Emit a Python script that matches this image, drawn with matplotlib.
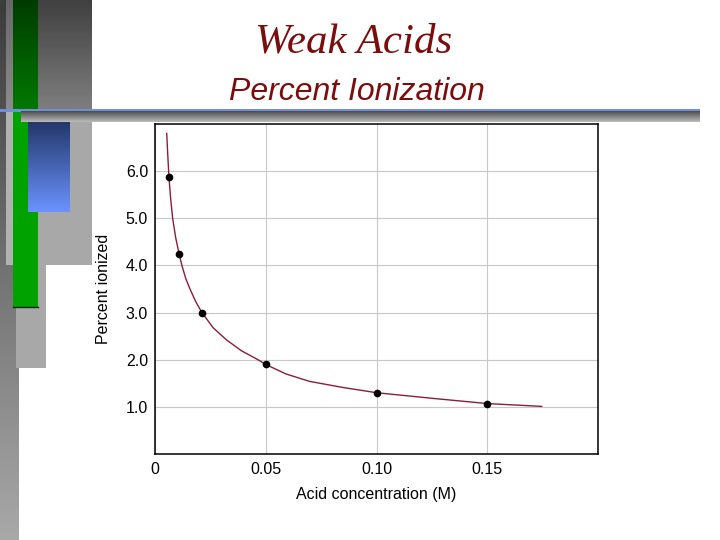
import numpy as np
import matplotlib
matplotlib.use("Agg")
import matplotlib.pyplot as plt
import matplotlib.colors as mcolors
from matplotlib.patches import Rectangle
from matplotlib.ticker import FixedLocator, FixedFormatter

plt.rcParams['font.family'] = ['Liberation Sans', 'DejaVu Sans']

# measured points (acid concentration M, percent ionized)
conc = [0.0063, 0.0109, 0.0212, 0.050, 0.100, 0.150]
pct = [5.87, 4.24, 3.00, 1.90, 1.30, 1.07]

# fitted curve
curve_conc = [0.0053, 0.0057, 0.0063, 0.0071, 0.0080, 0.0093, 0.0109, 0.0122,
              0.0139, 0.0158, 0.0184, 0.0212, 0.0262, 0.0323, 0.0390, 0.0465,
              0.050, 0.059, 0.0698, 0.085, 0.100, 0.1254, 0.150, 0.1746]
curve_pct = [6.80, 6.40, 5.87, 5.40, 4.99, 4.60, 4.24, 3.99,
             3.72, 3.50, 3.23, 3.00, 2.68, 2.42, 2.19, 2.00,
             1.90, 1.70, 1.54, 1.41, 1.30, 1.18, 1.07, 1.01]

xticks = [0, 0.05, 0.10, 0.15]
xtick_labels = ['0', '0.05', '0.10', '0.15']
yticks = [1, 2, 3, 4, 5, 6]
ytick_labels = ['1.0', '2.0', '3.0', '4.0', '5.0', '6.0']

title_color = '#7b0d0d'

fig = plt.figure(figsize=(7.2, 5.4), dpi=100)

# slide decoration, drawn in pixel coordinates
bg = fig.add_axes([0, 0, 1, 1], zorder=0)


def vgrad(x0, x1, y0, y1, top, bottom, z=1):
    c0 = np.array(mcolors.to_rgb(top))
    c1 = np.array(mcolors.to_rgb(bottom))
    t = np.linspace(0, 1, 64)[:, None]
    img = (c0 + (c1 - c0) * t)[:, None, :]
    bg.imshow(img, extent=(x0, x1, y1, y0), aspect='auto',
              interpolation='bilinear', zorder=z)


def box(x0, x1, y0, y1, color, z=1):
    bg.add_patch(Rectangle((x0, y0), x1 - x0, y1 - y0, facecolor=color,
                           edgecolor='none', zorder=z))


vgrad(0, 19, 0, 540, '#3c3c3c', '#a8a8a8', 1)
vgrad(6, 92, 0, 109, '#404040', '#7e7e7e', 2)
vgrad(6, 13, 0, 109, '#686868', '#8c8c8c', 3)
box(6, 13, 109, 265, '#b2b2b2', 2)
box(13, 92, 109, 265, '#a8a8a8', 2)
box(16, 46, 265, 368, '#a8a8a8', 2)
vgrad(13, 38, 0, 109, '#003c00', '#007800', 4)
box(13, 38, 109, 307, '#00a200', 4)
bg.plot([13, 38], [307, 307], color='#102010', lw=1, zorder=5)
box(0, 700, 108.5, 111.5, '#6f8fdc', 6)
vgrad(21, 700, 111.5, 122, '#4c4c4c', '#bcbcbc', 6)
vgrad(28, 70, 122, 212, '#24386c', '#6b92ff', 7)

bg.set_xlim(0, 720)
bg.set_ylim(540, 0)
bg.axis('off')

fig.text(354 / 720, 1 - 52.7 / 540, 'Weak Acids', ha='center', va='baseline',
         fontsize=31, fontstyle='italic', family=['Liberation Serif'],
         color=title_color)
fig.text(357 / 720, 1 - 99.5 / 540, 'Percent Ionization', ha='center',
         va='baseline', fontsize=23, fontstyle='italic',
         family=['Liberation Sans'], color=title_color)

# chart
ax = fig.add_axes([155 / 720, 1 - 454 / 540, 443 / 720, 330 / 540], zorder=2)
ax.set_facecolor('white')
ax.plot(curve_conc, curve_pct, color='#8b1c3c', lw=1.0, zorder=3)
ax.plot(conc, pct, linestyle='none', marker='o', markersize=4.5,
        color='black', zorder=4)

ax.set_xlim(0, 0.2)
ax.set_ylim(0, 7)
ax.xaxis.set_major_locator(FixedLocator(xticks))
ax.xaxis.set_major_formatter(FixedFormatter(xtick_labels))
ax.yaxis.set_major_locator(FixedLocator(yticks))
ax.yaxis.set_major_formatter(FixedFormatter(ytick_labels))
ax.tick_params(axis='x', length=0, pad=6, labelsize=11.5, colors='black')
ax.tick_params(axis='y', length=0, pad=5, labelsize=11.5, colors='black')
ax.grid(True, color='#c8c8c8', lw=0.8)
ax.set_axisbelow(True)
for s in ax.spines.values():
    s.set_linewidth(1.1)
    s.set_color('black')

ax.set_xlabel('Acid concentration (M)', fontsize=11.5)
ax.set_ylabel('Percent ionized', fontsize=11.5)
ax.xaxis.set_label_coords(0.5, -0.099)
ax.yaxis.set_label_coords(-0.100, 0.5)

fig.savefig('out.png', dpi=100)
